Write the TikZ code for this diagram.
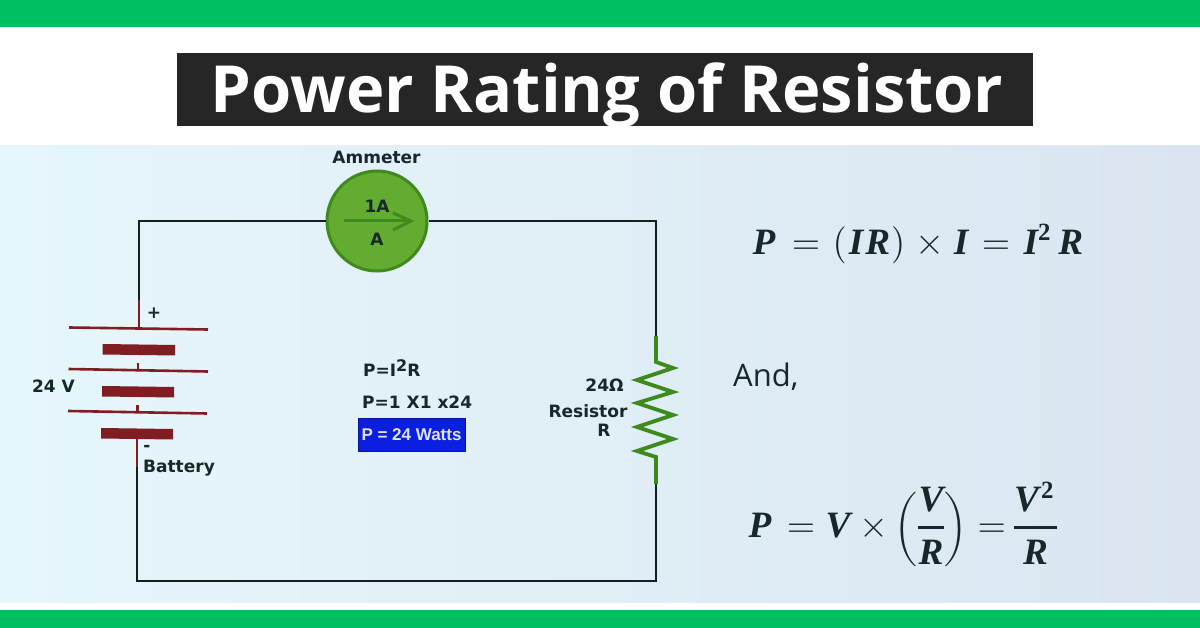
\documentclass[tikz,border=0pt]{standalone}
\usepackage{amsmath}
\usepackage{fontspec}
\setmainfont{DejaVu Sans}
\newfontfamily\titlefont{Open Sans}
\newfontfamily\arialfont{Liberation Sans}
\newfontfamily\andfont{Open Sans}
\newfontfamily\eqserif{Liberation Serif}
\newcommand{\mv}[1]{\text{\eqserif\bfseries\itshape #1}}
\newcommand{\mn}[1]{\text{\eqserif\bfseries #1}}
\newcommand{\mypar}[1]{\text{\fontsize{10}{12}\selectfont$\bigg#1$}}
\newcommand{\myfrac}[2]{\genfrac{}{}{1pt}{0}{#1}{\rule{0pt}{8.3pt}#2}}
\definecolor{band}{HTML}{00BF63}
\definecolor{titlebg}{HTML}{262626}
\definecolor{bgl}{HTML}{E6F7FB}
\definecolor{bgr}{HTML}{DAE5F1}
\definecolor{wire}{HTML}{14201F}
\definecolor{batt}{HTML}{7F1D22}
\definecolor{resgreen}{HTML}{3F8A1C}
\definecolor{amfill}{HTML}{64AC30}
\definecolor{amedge}{HTML}{3F8A1C}
\definecolor{wattbg}{HTML}{0A1FE0}
\definecolor{txt}{HTML}{17282B}
\tikzset{
  wireline/.style={draw=wire,line width=2.5pt},
  battline/.style={draw=batt,line width=2.6pt},
  plate/.style={fill=batt,draw=none},
  resline/.style={draw=resgreen,line width=3.8pt,line join=miter},
  lab/.style={inner sep=0pt,text=txt,font=\fontsize{17}{20}\selectfont\bfseries,align=center},
  eqnode/.style={inner sep=0pt,text=txt,anchor=base west,scale=3.1,font=\fontsize{12}{14}\selectfont}
}
\begin{document}
\begin{tikzpicture}[x=1pt,y=-1pt]
\useasboundingbox (0,0) rectangle (1200,628);
\fill[white] (0,0) rectangle (1200,628);
\fill[band] (0,0) rectangle (1200,27);
\fill[band] (0,610) rectangle (1200,628);
\shade[left color=bgl,right color=bgr] (0,146) rectangle (1200,602);
\fill[titlebg] (177,53) rectangle (1033,126);
\node[inner sep=0pt,text=white,anchor=base] (title) at (607,113) {\titlefont\fontsize{65}{70}\selectfont\bfseries Power Rating of Resistor};

% circuit coordinates
\coordinate (tl) at (139,221);
\coordinate (tr) at (656,221);
\coordinate (br) at (656,581);
\coordinate (bl) at (137,581);
\coordinate (battop) at (139,300);
\coordinate (batplus) at (139,328);
\coordinate (batbot) at (137,467);
\coordinate (batminus) at (137,438);
\coordinate (restop) at (656,336);
\coordinate (resbot) at (656,484);

\node[circle,minimum size=100pt,inner sep=0pt,fill=amfill,draw=amedge,line width=3pt] (amm) at (377,221) {};
\draw[wireline] (battop) -- (tl) -- (amm.west);
\draw[wireline] (amm.east) -- (tr) -- (restop);
\draw[wireline] (resbot) -- (br) -- (bl) -- (batbot);

% battery
\draw[battline] (battop) -- (batplus);
\draw[battline] (batminus) -- (batbot);
\draw[battline] (69,327.5) -- (208,329.5);
\draw[battline] (68.5,369) -- (208,371.5);
\draw[battline] (68,411) -- (207,413.5);
\fill[plate] (102.5,344) -- (175,345) -- (175,355.5) -- (102.5,354.5) -- cycle;
\fill[plate] (102,386) -- (174,387) -- (174,397.5) -- (102,396.5) -- cycle;
\fill[plate] (101,428) -- (173,429) -- (173,439.5) -- (101,438.5) -- cycle;
\draw[battline] (138,363) -- (138,370);
\draw[battline] (137.5,405) -- (137.5,412);

% resistor
\draw[resline] (restop) -- (656,362) -- (673,368) -- (637,380) -- (673,392) -- (637,403) -- (673,415) -- (637,427) -- (673,439) -- (637,451) -- (656,457) -- (resbot);

% ammeter contents
\coordinate (arrs) at (344,221);
\coordinate (arre) at (411,221);
\draw[draw=amedge,line width=3pt] (arrs) -- (arre);
\draw[draw=amedge,line width=3pt] (393,213) -- (arre) -- (393,230);
\node[lab] (ammlab) at (376.5,157) {Ammeter};
\node[lab] (onea) at (377,206) {1A};
\node[lab] (ammA) at (377,239) {A};

\node[lab] (plus) at (154,313) {+};
\node[lab] (minus) at (147,448) {-};
\node[lab] (volt) at (53.5,386) {24 V};
\node[lab] (battlab) at (179,468) {Battery};

% centre
\node[lab,anchor=base west] (f1) at (363,377) {P=I\raisebox{5pt}{\fontsize{16}{16}\selectfont 2}R};
\node[lab,anchor=base west] (f2) at (362,408) {P=1 X1 x24};
\node[fill=wattbg,draw=wattbg!70!black,line width=0.6pt,minimum width=107pt,minimum height=33pt,inner sep=0pt,text=white!88!blue] (watt) at (411.5,434.5) {\arialfont\fontsize{17}{20}\selectfont\bfseries P = 24 Watts};

% resistor labels
\node[lab] (ohm) at (604.5,385) {24Ω};
\node[lab] (reslab) at (588,411) {Resistor};
\node[lab] (resr) at (604,430) {R};

% equations
\node[eqnode] (eq1) at (752,255) {$\mv{P}\mkern3mu = \mkern1mu(\mkern1mu\mv{I}\mkern1mu\mv{R}\mkern0.5mu)\mkern1mu\times\mkern0.5mu \mv{I}\mkern1.5mu = \mkern1.5mu\mv{I}^{\mn{2}}\mkern3mu\mv{R}$};
\node[inner sep=0pt,text=txt,anchor=base west] (and) at (733,386) {\andfont\fontsize{31}{34}\selectfont And,};
\node[eqnode,/tikz/execute at begin node={\nulldelimiterspace=0pt}] (eq2) at (748,537) {$\mv{P}\mkern2.5mu = \mv{V}\mkern0.5mu\times\mkern-1mu\mypar{(}\myfrac{\mkern0.5mu\mv{V}\mkern0.5mu}{\mv{R}}\mypar{)}=\mkern-1mu\myfrac{\mv{V}\mkern1mu^{\mn{2}}\mkern1mu}{\mv{R}}$};
\end{tikzpicture}
\end{document}
